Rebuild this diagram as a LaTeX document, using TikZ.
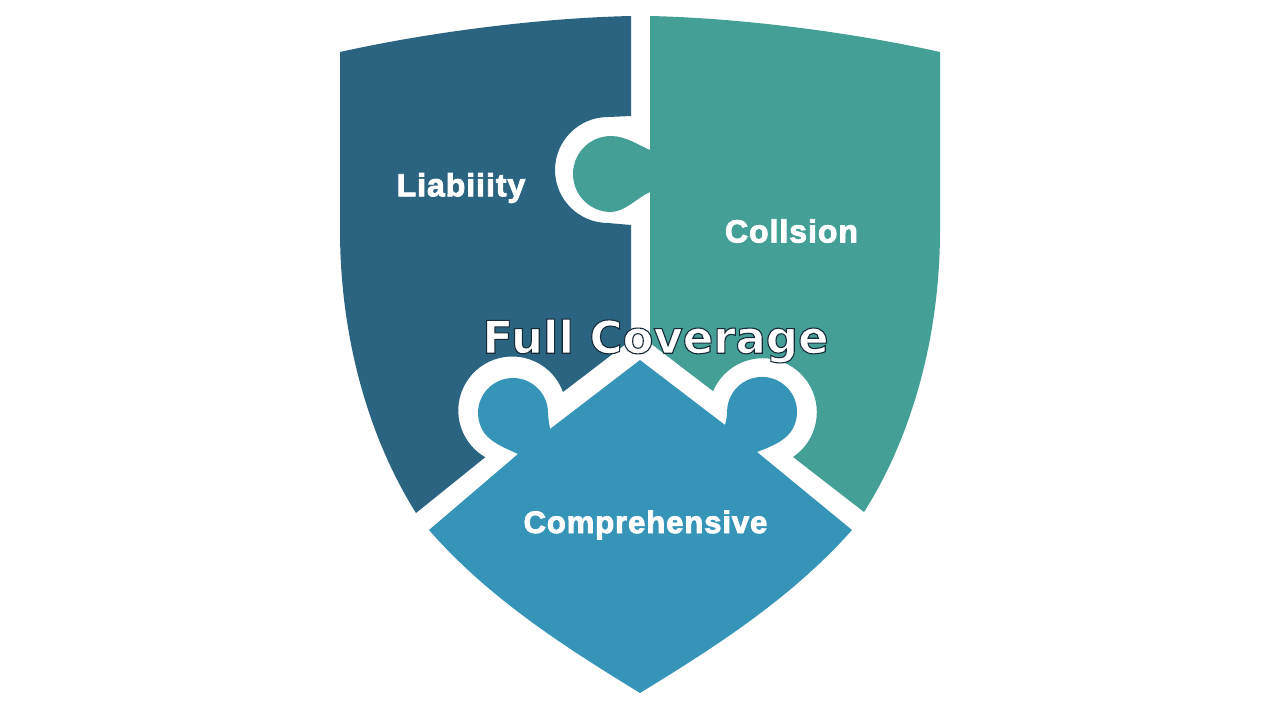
\documentclass[tikz,border=0pt]{standalone}
\usepackage{fontspec}
\setmainfont{Liberation Sans}
\newfontfamily\lblfont[LetterSpace=3.0]{Liberation Sans}
\newfontfamily\ttlfont{DejaVu Sans}
\definecolor{liabcol}{HTML}{2A6480}
\definecolor{collcol}{HTML}{44A096}
\definecolor{compcol}{HTML}{3594B7}
\newcommand{\heavier}[1]{\special{pdf:code q 2 Tr 0.9 w 1 1 1 RG}#1\special{pdf:code Q}}
\newcommand{\outlined}[1]{\special{pdf:code q 2 Tr 1.1 w 0.09 0.17 0.22 RG}#1\special{pdf:code Q}}
\tikzset{
  piece/.style={draw=none},
  lbl/.style={text=white,inner sep=0pt,font=\lblfont\bfseries\fontsize{32}{36}\selectfont},
  ttl/.style={text=white,inner sep=0pt,font=\ttlfont\bfseries\fontsize{45}{50}\selectfont}
}
\begin{document}
\begin{tikzpicture}[x=1pt,y=-1pt]
\useasboundingbox (0,0) rectangle (1280,720);
\fill[white] (0,0) rectangle (1280,720);
% Liability piece
\fill[piece,liabcol] (340,52) .. controls (430,32) and (540,18) .. (631,16)
  -- (631,116) -- (608,117) arc[start angle=-90,end angle=-270,radius=53]
  -- (631,225) -- (631,340) -- (563,392)
  arc[start angle=-20,end angle=-240,radius=54]
  -- (416,513) .. controls (370,440) and (340,340) .. (340,230) -- cycle;
% Collision piece
\fill[piece,collcol] (650,16) .. controls (740,18) and (850,32) .. (940,52)
  -- (940,230) .. controls (940,340) and (910,440) .. (864,512)
  -- (793,457) arc[start angle=56,end angle=-157,radius=54]
  -- (650,343) -- (650,192) .. controls (638,197) and (625,212) .. (611,212)
  arc[start angle=-270,end angle=-90,radius=38]
  .. controls (626,136) and (640,146) .. (650,150) -- cycle;
% Comprehensive piece
\fill[piece,compcol] (640,360) -- (550,429) .. controls (549,422) and (548,418) .. (548,413)
  arc[start angle=0,end angle=-215,radius=35]
  .. controls (492,443) and (505,448) .. (518,454)
  -- (429,530) .. controls (490,600) and (570,650) .. (640,693)
  .. controls (710,650) and (790,600) .. (852,530) -- (757,452)
  .. controls (770,447) and (783,442) .. (790.7,432)
  arc[start angle=35,end angle=-180,radius=35]
  .. controls (727,417) and (726,421) .. (725,425) -- cycle;
% Labels
\node[lbl] (liab) at (461,188) {\heavier{Liabiiity}};
\node[lbl] (coll) at (791.5,231) {\heavier{Collsion}};
\node[lbl,font=\lblfont\bfseries\fontsize{31}{34}\selectfont] (comp) at (645.5,525) {\heavier{Comprehensive}};
\node[ttl] (full) at (655.5,341) {\outlined{Full Coverage}};
\end{tikzpicture}
\end{document}
